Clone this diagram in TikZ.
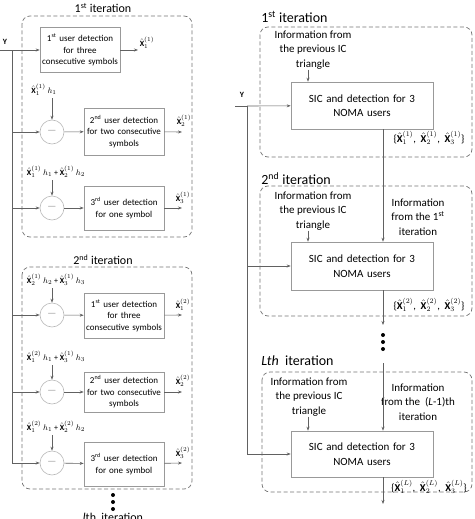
\documentclass[tikz,border=0pt]{standalone}
\usepackage{fontspec}
\setmainfont{Carlito}
\usetikzlibrary{arrows.meta,positioning}
\colorlet{linegray}{black!62}
\colorlet{boxgray}{black!40}
\newcommand{\xh}[2]{$\hat{\mathbf{X}}_{#1}^{(#2)}$}
\begin{document}
\begin{tikzpicture}[x=1pt, y=-1pt, >={Stealth[length=4pt,width=3pt]}, line width=0.6pt]
    \tikzstyle{frame} = [draw=black!55, dash pattern=on 4pt off 2.5pt, rounded corners=8pt, line width=0.7pt]
    \tikzstyle{det} = [rectangle, draw=boxgray, text width=78pt, align=center, font=\fontsize{9}{11.5}\selectfont, inner sep=1pt]
    \tikzstyle{sic} = [rectangle, draw=boxgray, minimum width=142pt, text width=138pt, align=center, font=\fontsize{11}{14.5}\selectfont, inner sep=1pt]
    \tikzstyle{sub} = [circle, draw=boxgray!70, minimum size=24pt, inner sep=0pt]
    \tikzstyle{lab} = [font=\fontsize{8}{9}\selectfont, inner sep=0pt]
    \tikzstyle{outr} = [font=\fontsize{10.5}{11}\selectfont, inner sep=0pt]
    \tikzstyle{info} = [align=center, font=\fontsize{11}{14.5}\selectfont, inner sep=0pt]
    \tikzstyle{ttl} = [font=\fontsize{12}{13}\selectfont, inner sep=0pt]
    \tikzstyle{ttr} = [anchor=west, font=\fontsize{14}{15}\selectfont, inner sep=0pt]
    \tikzstyle{dot} = [circle, fill=black, inner sep=0pt, minimum size=4pt]
    \tikzstyle{conn} = [draw=linegray, ->]
    \useasboundingbox (0,0) rectangle (474,519);

    % left: 1st iteration
    \node [ttl] (tl1) at (103,8) {1\textsuperscript{st} iteration};
    \draw [frame] (22,16) rectangle (192,237);
    \node [lab] (yl) at (5,42) {$\mathbf{Y}$};
    \coordinate (ys) at (0,50);
    \coordinate (yb) at (12,50);
    \node [det, minimum height=45pt] (d11) at (80,50) {1\textsuperscript{st} user detection\\for three\\consecutive symbols};
    \coordinate (o11) at (138,50);
    \node [lab] at (147,43) {\xh{1}{1}};
    \node [lab] (l12) at (44,90) {\xh{1}{1} $h_1$};
    \node [sub] (s12) at (52,132) {\textcolor{boxgray}{---}};
    \node [det, minimum height=47pt] (d12) at (124,131.5) {2\textsuperscript{nd} user detection\\for two consecutive\\symbols};
    \coordinate (o12) at (182,132);
    \node [lab] at (184,121) {\xh{2}{1}};
    \node [lab] (l13) at (56,172) {\xh{1}{1} $h_1$ + \xh{2}{1} $h_2$};
    \node [sub] (s13) at (52,208) {\textcolor{boxgray}{---}};
    \node [det, minimum height=44pt] (d13) at (124,208) {3\textsuperscript{rd} user detection\\for one symbol};
    \coordinate (o13) at (182,208);
    \node [lab] at (183,198) {\xh{3}{1}};

    % left: 2nd iteration
    \node [ttl] (tl2) at (103,260) {2\textsuperscript{nd} iteration};
    \draw [frame] (22,267) rectangle (192,489);
    \node [lab] (l21) at (56,280) {\xh{2}{1} $h_2$ + \xh{3}{1} $h_3$};
    \node [sub] (s21) at (52,315) {\textcolor{boxgray}{---}};
    \node [det, minimum height=45pt] (d21) at (124,315.5) {1\textsuperscript{st} user detection\\for three\\consecutive symbols};
    \coordinate (o21) at (182,315);
    \node [lab] at (183,305) {\xh{1}{2}};
    \node [lab] (l22) at (56,357) {\xh{1}{2} $h_1$ + \xh{3}{1} $h_3$};
    \node [sub] (s22) at (52,392) {\textcolor{boxgray}{---}};
    \node [det, minimum height=40pt] (d22) at (124,392) {2\textsuperscript{nd} user detection\\for two consecutive\\symbols};
    \coordinate (o22) at (182,392);
    \node [lab] at (183,381) {\xh{2}{2}};
    \node [lab] (l23) at (56,427) {\xh{1}{2} $h_1$ + \xh{2}{2} $h_2$};
    \node [sub] (s23) at (52,463) {\textcolor{boxgray}{---}};
    \node [det, minimum height=44pt] (d23) at (124,464) {3\textsuperscript{rd} user detection\\for one symbol};
    \coordinate (o23) at (182,463);
    \node [lab] at (183,453) {\xh{3}{2}};
    \coordinate (yb23) at (12,463);
    \node [dot] (ld1) at (113,495) {};
    \node [dot] (ld2) at (113,502) {};
    \node [dot] (ld3) at (113,509) {};
    \node [ttl] (tl3) at (113,517) {\textit{l}th\ \ iteration};

    \draw [draw=linegray] (ys) -- (yb) -- (yb23);
    \draw [conn] (yb) -- (d11);
    \draw [conn] (d11) -- (o11);
    \draw [conn] (s12 |- l12.south) ++(0,2) -- (s12);
    \draw [conn] (yb |- s12) -- (s12);
    \draw [conn] (s12) -- (d12);
    \draw [conn] (d12) -- (o12);
    \draw [conn] (s13 |- l13.south) ++(0,2) -- (s13);
    \draw [conn] (yb |- s13) -- (s13);
    \draw [conn] (s13) -- (d13);
    \draw [conn] (d13) -- (o13);
    \draw [conn] (s21 |- l21.south) ++(0,2) -- (s21);
    \draw [conn] (yb |- s21) -- (s21);
    \draw [conn] (s21) -- (d21);
    \draw [conn] (d21) -- (o21);
    \draw [conn] (s22 |- l22.south) ++(0,2) -- (s22);
    \draw [conn] (yb |- s22) -- (s22);
    \draw [conn] (s22) -- (d22);
    \draw [conn] (d22) -- (o22);
    \draw [conn] (s23 |- l23.south) ++(0,2) -- (s23);
    \draw [conn] (yb23) -- (s23);
    \draw [conn] (s23) -- (d23);
    \draw [conn] (d23) -- (o23);

    % right: 1st iteration
    \node [ttr] (tr1) at (261,17) {1\textsuperscript{st} iteration};
    \draw [frame] (260,27) rectangle (472,157);
    \node [info] (i11) at (313,50) {Information from\\the previous IC\\triangle};
    \node [sic, minimum height=47pt] (c1) at (362,105.5) {SIC and detection for 3\\NOMA users};
    \node [lab] (yr) at (242,95) {$\mathbf{Y}$};
    \coordinate (yrs) at (235,106);
    \coordinate (yrb) at (247,106);
    \node [outr] (out1) at (429,138) {\{\xh{1}{1}, \ \xh{2}{1}, \ \xh{3}{1}\}};

    % right: 2nd iteration
    \node [ttr] (tr2) at (261,179) {2\textsuperscript{nd} iteration};
    \draw [frame] (260,186) rectangle (472,316);
    \node [info] (i21) at (313,211) {Information from\\the previous IC\\triangle};
    \node [info] (i22) at (418,217) {Information\\from the 1\textsuperscript{st}\\iteration};
    \node [sic, minimum height=48pt] (c2) at (362,266) {SIC and detection for 3\\NOMA users};
    \node [outr] (out2) at (429,305) {\{\xh{1}{2}, \ \xh{2}{2}, \ \xh{3}{2}\}};
    \coordinate (e2) at (383,325);
    \node [dot] (rd1) at (383,335) {};
    \node [dot] (rd2) at (383,342) {};
    \node [dot] (rd3) at (383,349) {};

    % right: Lth iteration
    \node [ttr] (tr3) at (261,361) {\textit{Lth}\ \ iteration};
    \draw [frame] (262,372) rectangle (472,492);
    \coordinate (s3) at (383,363);
    \node [info] (i31) at (309,397) {Information from\\the previous IC\\triangle};
    \node [info] (i32) at (418,402) {Information\\from the\ \ (\textit{L}-1)th\\iteration};
    \node [sic, minimum height=46pt] (c3) at (362,454) {SIC and detection for 3\\NOMA users};
    \node [outr] (out3) at (429,487) {\{\xh{1}{L}, \ \xh{2}{L}, \ \xh{3}{L}\}};
    \coordinate (e3) at (383,504);

    \draw [draw=linegray] (yrs) -- (yrb);
    \draw [conn] (yrb) -- (c1);
    \draw [conn] (yrb) -- (yrb |- c2) -- (c2);
    \draw [conn] (yrb) -- (yrb |- c3) -- (c3);
    \draw [conn] (i11.south -| 308,0) -- (c1.north -| 308,0);
    \draw [conn] (i21.south -| 308,0) -- (c2.north -| 308,0);
    \draw [conn] (i31.south -| 308,0) -- (c3.north -| 308,0);
    \draw [conn] (c1.south -| e2) -- (c2.north -| e2);
    \draw [conn] (c2.south -| e2) -- (e2);
    \draw [conn] (s3) -- (c3.north -| s3);
    \draw [conn] (c3.south -| e3) -- (e3);
\end{tikzpicture}
\end{document}
